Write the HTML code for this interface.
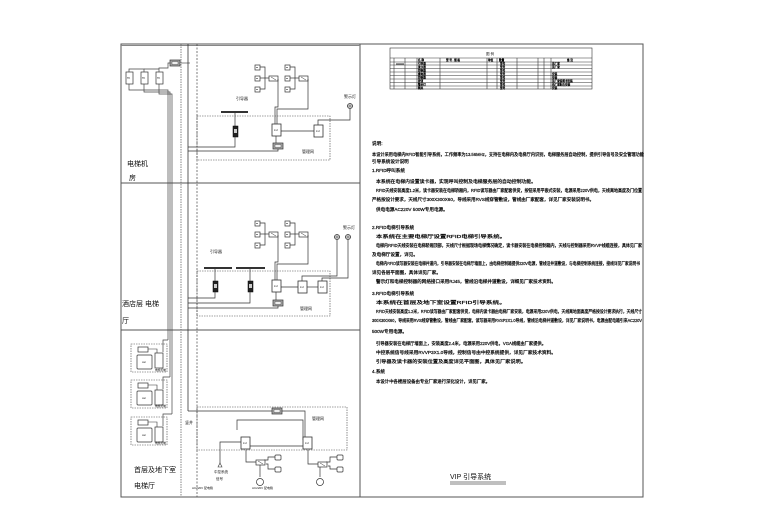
<!DOCTYPE html>
<html><head><meta charset="utf-8"><style>
html,body{margin:0;padding:0;background:#fff;}
svg{display:block;}
text{font-family:"Liberation Sans","Noto Sans CJK SC",sans-serif;fill:#111;}
.n text{fill:#000;stroke:#000;stroke-width:0.2;}
</style></head><body>
<svg width="760" height="530" viewBox="0 0 760 530" xmlns="http://www.w3.org/2000/svg">
<defs>
<g id="btn"><rect x="0" y="0" width="5" height="5" fill="#fff" stroke="#333" stroke-width="0.7"/><line x1="1" y1="2.5" x2="3" y2="2.5" stroke="#333" stroke-width="0.6"/></g>
<g id="rel"><rect x="0" y="0" width="9" height="5" fill="#fff" stroke="#333" stroke-width="0.7"/><line x1="2" y1="1" x2="7" y2="4" stroke="#333" stroke-width="0.5"/></g>
<g id="ctl"><rect x="0" y="0" width="9" height="12" fill="#fff" stroke="#333" stroke-width="0.8"/><text x="2" y="7" font-size="3">LU</text></g>
<g id="rdr"><rect x="0" y="0" width="5" height="11" fill="#222" stroke="#000" stroke-width="0.5"/><rect x="1" y="3" width="3" height="4" fill="#ccc"/></g>
<g id="gbox"><rect x="0" y="0" width="10" height="6" fill="#aaa" stroke="#333" stroke-width="0.7"/><rect x="2" y="1.5" width="6" height="3" fill="#eee" stroke="#333" stroke-width="0.4"/></g>
<g id="lamp"><circle cx="0" cy="0" r="2.5" fill="#fff" stroke="#333" stroke-width="0.8"/><line x1="-2.5" y1="0" x2="2.5" y2="0" stroke="#333" stroke-width="0.6"/><line x1="0" y1="-2.5" x2="0" y2="2.5" stroke="#333" stroke-width="0.6"/></g>
</defs>

<g stroke="#555" fill="none" stroke-width="1">
<rect x="121" y="44" width="522" height="453"/>
<line x1="360" y1="44" x2="360" y2="497"/>
<line x1="121" y1="183" x2="360" y2="183"/>
<line x1="121" y1="330" x2="360" y2="330"/>
</g>
<line x1="121" y1="45.5" x2="360" y2="45.5" stroke="#888" stroke-width="1"/>

<line x1="181" y1="44" x2="181" y2="497" stroke="#666" stroke-width="0.8" stroke-dasharray="1.5,1"/>
<line x1="188" y1="44" x2="188" y2="411" stroke="#333" stroke-width="0.8"/>
<line x1="197" y1="44" x2="197" y2="497" stroke="#444" stroke-width="0.7" stroke-dasharray="2,1.5"/>

<use href="#gbox" x="170" y="60"/>
<line x1="181" y1="63" x2="190" y2="63" stroke="#333" stroke-width="0.6"/>
<g stroke="#333" stroke-width="0.7" fill="#fff">
<rect x="126" y="72" width="7" height="12"/><rect x="141" y="72" width="7" height="12"/><rect x="156" y="72" width="7" height="12"/>
</g>
<g font-size="2.5"><text x="127" y="79">TK</text><text x="142" y="79">TK</text><text x="157" y="79">TK</text></g>
<g stroke="#444" stroke-width="0.7" fill="none">
<polyline points="129,72 129,69 144,69 144,72"/><polyline points="144,69 159,69 159,72 159,68 168,68 168,63 170,63"/>
<polyline points="129,84 129,90 168,90 168,340"/>
<polyline points="144,84 144,92 170,92 170,377"/>
<polyline points="159,84 159,94 172,94 172,414"/>
<polyline points="168,340 163,340 163,352"/>
<polyline points="170,377 163,377 163,389"/>
<polyline points="172,414 163,414 163,426"/>
</g>

<text x="236" y="100" font-size="4">引导器</text>
<rect x="221" y="111" width="27" height="2" fill="#333"/>
<line x1="235" y1="113" x2="235" y2="126" stroke="#333" stroke-width="0.7"/>
<use href="#rdr" x="233" y="126"/>
<rect x="197" y="116" width="133" height="44" fill="none" stroke="#444" stroke-width="0.6" stroke-dasharray="1.5,1"/>
<use href="#btn" x="255" y="65"/><use href="#btn" x="255" y="76"/><use href="#btn" x="255" y="87"/>
<use href="#btn" x="285" y="65"/><use href="#btn" x="285" y="76"/><use href="#btn" x="285" y="87"/>
<use href="#rel" x="269" y="76"/><use href="#rel" x="299" y="76"/>
<g stroke="#333" stroke-width="0.7" fill="none">
<polyline points="260,67 265,67 265,89 260,89"/><line x1="260" y1="78" x2="269" y2="78"/>
<polyline points="290,67 295,67 295,89 290,89"/><line x1="290" y1="78" x2="299" y2="78"/>
<polyline points="278,79 278,107 275,107 275,124"/>
<polyline points="308,79 308,109 277,109 277,124"/>
<line x1="281" y1="131" x2="314" y2="131"/>
<polyline points="318,125 318,120 350,120 350,109"/>
<polyline points="276,136 276,143"/>
<polyline points="235,137 235,147 188,147"/>
<polyline points="278,149 278,151 188,151"/>
</g>
<use href="#ctl" x="272" y="124"/>
<use href="#ctl" x="314" y="125"/>
<use href="#gbox" x="273" y="143"/>
<use href="#lamp" x="350" y="106"/>
<text x="344" y="98" font-size="4">警示灯</text>
<text x="302" y="153" font-size="4">管理网</text>
<text x="127" y="166" font-size="7">电梯机</text>
<text x="129" y="180" font-size="7">房</text>

<use href="#btn" x="255" y="221"/><use href="#btn" x="255" y="232"/><use href="#btn" x="255" y="243"/>
<use href="#btn" x="285" y="221"/><use href="#btn" x="285" y="232"/><use href="#btn" x="285" y="243"/>
<use href="#rel" x="269" y="232"/><use href="#rel" x="299" y="232"/>
<text x="210" y="253" font-size="4">引导器</text>
<rect x="204" y="267" width="28" height="2" fill="#333"/>
<rect x="236" y="267" width="29" height="2" fill="#333"/>
<rect x="197" y="271" width="133" height="45" fill="none" stroke="#444" stroke-width="0.6" stroke-dasharray="1.5,1"/>
<use href="#rdr" x="213" y="281"/><use href="#rdr" x="248" y="281"/>
<g stroke="#333" stroke-width="0.7" fill="none">
<line x1="215" y1="269" x2="215" y2="281"/><line x1="250" y1="269" x2="250" y2="281"/>
<polyline points="260,223 265,223 265,245 260,245"/><line x1="260" y1="234" x2="269" y2="234"/>
<polyline points="290,223 295,223 295,245 290,245"/><line x1="290" y1="234" x2="299" y2="234"/>
<polyline points="278,235 278,262 275,262 275,280"/>
<polyline points="308,235 308,264 277,264 277,280"/>
<line x1="281" y1="287" x2="298" y2="287"/><line x1="307" y1="287" x2="318" y2="287"/>
<polyline points="302,281 302,276 337,276 337,240"/>
<polyline points="322,281 322,278 348,278 348,240"/>
<polyline points="215,292 215,298 188,298"/>
<polyline points="250,292 250,303 188,303"/>
<polyline points="276,292 276,300"/>
<polyline points="278,306 278,308 188,308"/>
</g>
<use href="#ctl" x="272" y="280"/><use href="#ctl" x="298" y="281"/><use href="#ctl" x="318" y="281"/>
<use href="#gbox" x="273" y="300"/>
<use href="#lamp" x="337" y="237"/><use href="#lamp" x="348" y="237"/>
<text x="343" y="229" font-size="4">警示灯</text>
<text x="300" y="310" font-size="4">管理网</text>
<text x="122" y="306" font-size="7">酒店层 电梯</text>
<text x="122" y="323" font-size="7">厅</text>

<g stroke="#444" stroke-width="0.6" fill="none" stroke-dasharray="1.5,1">
<rect x="131" y="344" width="36" height="28"/><rect x="131" y="380" width="36" height="28"/><rect x="131" y="417" width="36" height="28"/>
<rect x="197" y="407" width="150" height="43"/>
</g>
<g stroke="#333" stroke-width="0.7" fill="#fff">
<rect x="138" y="347" width="10" height="5"/><rect x="137" y="355" width="15" height="14" rx="1"/><rect x="155" y="353" width="8" height="15"/>
<rect x="138" y="383" width="10" height="5"/><rect x="137" y="391" width="15" height="14" rx="1"/><rect x="155" y="390" width="8" height="15"/>
<rect x="138" y="420" width="10" height="5"/><rect x="137" y="428" width="15" height="14" rx="1"/><rect x="155" y="427" width="8" height="15"/>
</g>
<g stroke="#333" stroke-width="0.6" fill="none">
<polyline points="148,349 157,349 157,353"/><polyline points="148,385 157,385 157,390"/><polyline points="148,422 157,422 157,427"/>
</g>
<g font-size="2.8"><text x="142" y="363">car</text><text x="142" y="399">car</text><text x="142" y="436">car</text>
<text x="155" y="371">电梯控制</text><text x="155" y="407">电梯控制</text><text x="155" y="444">电梯控制</text></g>
<g stroke="#333" stroke-width="0.7" fill="none">
<polyline points="188,411 305,411 305,437"/>
<polyline points="237,430 237,420 303,420 303,440"/>
<line x1="250" y1="446" x2="303" y2="446"/>
<polyline points="220,463 220,442 243,442"/>
<polyline points="246,450 246,462 258,462"/>
<polyline points="308,450 308,464 320,464"/>
<polyline points="264,460 268,460 268,457 275,457"/><polyline points="266,464 268,464 268,469 275,469"/>
<polyline points="326,462 330,462 330,457 337,457"/><polyline points="328,466 330,466 330,469 337,469"/>
<line x1="260" y1="465" x2="260" y2="477"/><line x1="320" y1="467" x2="320" y2="477"/>
</g>
<use href="#gbox" x="272" y="408"/>
<use href="#ctl" x="241" y="437"/><use href="#ctl" x="303" y="437"/>
<use href="#rel" x="256" y="460"/><use href="#rel" x="318" y="462"/>
<g stroke="#333" stroke-width="0.7" fill="#fff">
<rect x="275" y="455" width="6" height="5" rx="1"/><rect x="275" y="467" width="6" height="5" rx="1"/>
<rect x="337" y="455" width="6" height="5" rx="1"/><rect x="337" y="467" width="6" height="5" rx="1"/>
<circle cx="260" cy="482" r="3.5"/><circle cx="320" cy="482" r="3.5"/>
</g>
<polygon points="220,463 218,467 222,467" fill="none" stroke="#333" stroke-width="0.6"/>
<text x="214" y="473" font-size="3.5">中控系统</text>
<text x="216" y="480" font-size="3.5">信号</text>
<text x="312" y="420" font-size="4">管理网</text>
<text x="185" y="424" font-size="4">竖井</text>
<text x="192" y="489" font-size="3">AC220V 配电箱</text>
<text x="252" y="489" font-size="3">AC220V 配电箱</text>
<text x="134" y="472" font-size="7">首层及地下室</text>
<text x="134" y="488" font-size="7">电梯厅</text>

<g stroke="#333" stroke-width="0.6" fill="none">
<rect x="390" y="48" width="202" height="41"/>
<line x1="390" y1="58" x2="592" y2="58"/>
<line x1="390" y1="62" x2="592" y2="62"/>
<line x1="390" y1="65" x2="592" y2="65"/><line x1="390" y1="68.5" x2="592" y2="68.5"/><line x1="390" y1="72" x2="592" y2="72"/>
<line x1="390" y1="75.5" x2="592" y2="75.5"/><line x1="390" y1="79" x2="592" y2="79"/><line x1="390" y1="82.5" x2="592" y2="82.5"/><line x1="390" y1="86" x2="592" y2="86"/>
<line x1="394" y1="58" x2="394" y2="89"/><line x1="405" y1="58" x2="405" y2="89"/><line x1="417" y1="58" x2="417" y2="89"/>
<line x1="440" y1="58" x2="440" y2="89"/><line x1="487" y1="58" x2="487" y2="89"/><line x1="497" y1="58" x2="497" y2="89"/>
<line x1="517" y1="58" x2="517" y2="89"/><line x1="538" y1="58" x2="538" y2="89"/><line x1="544" y1="58" x2="544" y2="89"/><line x1="551" y1="58" x2="551" y2="89"/>
</g>
<text x="486" y="55" font-size="3.5">图 例</text>
<g font-size="2.6" class="n">
<text x="418" y="61">名 称</text><text x="446" y="61">型 号 . 规 格</text><text x="488" y="61">单位</text><text x="499" y="61">数量</text><text x="567" y="61">备 注</text>
<text x="418" y="64.5">引导器</text><text x="418" y="68">读卡器</text><text x="418" y="71.5">控制器</text><text x="418" y="75">继电器</text><text x="418" y="78.5">控制器</text><text x="418" y="82">按钮</text><text x="418" y="85.5">警示灯</text><text x="418" y="88.8">网关</text>
<text x="500" y="64.5">型号</text><text x="500" y="68">型号</text><text x="500" y="71.5">型号</text><text x="500" y="75">型号</text><text x="500" y="78.5">型号</text><text x="500" y="82">型号</text><text x="500" y="85.5">型号</text><text x="500" y="88.8">型号</text>
<text x="552" y="64.5">见厂家</text><text x="552" y="68">见厂家</text><text x="552" y="75">安装</text><text x="552" y="78.5">安装</text><text x="552" y="82">见厂家说明书安装</text><text x="552" y="85.5">由厂家配合安装</text><text x="552" y="88.8">安装</text>
</g>
<rect x="396" y="63.5" width="8" height="1" fill="#333"/>

<g font-size="4.6" class="n">
<text x="372" y="145">说明:</text>
<text x="372" y="156" textLength="272" lengthAdjust="spacingAndGlyphs">本设计采用电梯内RFID智能引导系统，工作频率为13.56MHz，支持在电梯内及电梯厅内识别，电梯服务层自动控制，提供引导信号及安全管理功能</text>
<text x="372" y="163">引导系统设计说明</text>
<text x="372" y="172">1.RFID呼叫系统</text>
<text x="376" y="183" textLength="160" lengthAdjust="spacingAndGlyphs">本系统在电梯内设置读卡器，实现呼叫控制及电梯服务层的自动控制功能。</text>
<text x="376" y="192" textLength="266" lengthAdjust="spacingAndGlyphs">RFID天线安装高度1.2米，读卡器安装在电梯轿厢内，RFID读写器由厂家配套供货，按钮采用平嵌式安装，电源采用220V供电，天线离地高度及门位置</text>
<text x="372" y="201" textLength="222" lengthAdjust="spacingAndGlyphs">严格按设计要求，天线尺寸300X300X60，导线采用RVS线穿管敷设，管线由厂家配套，详见厂家安装说明书。</text>
<text x="376" y="211">供电电源AC220V 500W专用电源。</text>
<text x="372" y="229">2.RFID电梯引导系统</text>
<text x="376" y="238" textLength="130" lengthAdjust="spacingAndGlyphs">本系统在主要电梯厅设置RFID电梯引导系统。</text>
<text x="376" y="247" textLength="266" lengthAdjust="spacingAndGlyphs">电梯内RFID天线安装在电梯轿厢顶部，天线尺寸根据现场电梯情况确定，读卡器安装在电梯控制箱内，天线与控制器采用RVVP线缆连接，具体见厂家</text>
<text x="372" y="256">及电梯厅设置，详见。</text>
<text x="376" y="265" textLength="264" lengthAdjust="spacingAndGlyphs">电梯内RFID读写器安装在电梯井道内，引导器安装在电梯厅墙面上，由电梯控制箱提供220V电源，管线沿井道敷设，与电梯控制系统连接，接线详见厂家说明书</text>
<text x="372" y="274">详见各层平面图，具体详见厂家。</text>
<text x="376" y="283" textLength="180" lengthAdjust="spacingAndGlyphs">警示灯和电梯控制器的网络接口采用RJ45，管线沿电梯井道敷设，详细见厂家技术资料。</text>
<text x="372" y="295">3.RFID电梯引导系统</text>
<text x="376" y="304" textLength="130" lengthAdjust="spacingAndGlyphs">本系统在首层及地下室设置RFID引导系统。</text>
<text x="376" y="313" textLength="266" lengthAdjust="spacingAndGlyphs">RFID天线安装高度1.2米，RFID读写器由厂家配套供货，电梯内读卡器由电梯厂家安装，电源采用220V供电，天线离地面高度严格按设计要求执行，天线尺寸</text>
<text x="372" y="322" textLength="270" lengthAdjust="spacingAndGlyphs">300X300X60，导线采用RVS线穿管敷设，管线由厂家配套，读写器采用RVSP2X1.0导线，管线沿电梯井道敷设，详见厂家说明书，电源由配电箱引来AC220V</text>
<text x="372" y="333">500W专用电源。</text>
<text x="376" y="345" textLength="170" lengthAdjust="spacingAndGlyphs">引导器安装在电梯厅墙面上，安装高度2.4米，电源采用220V供电，VGA线缆由厂家提供。</text>
<text x="376" y="354" textLength="180" lengthAdjust="spacingAndGlyphs">中控系统信号线采用RVVP3X1.0导线，控制信号由中控系统提供，详见厂家技术资料。</text>
<text x="376" y="363" textLength="150" lengthAdjust="spacingAndGlyphs">引导器及读卡器的安装位置及高度详见平面图，具体见厂家说明。</text>
<text x="372" y="373">4.系统</text>
<text x="376" y="383" textLength="114" lengthAdjust="spacingAndGlyphs">本设计中各楼层设备由专业厂家进行深化设计，详见厂家。</text>
</g>
<text x="450" y="479" font-size="7">VIP 引导系统</text>
<line x1="450" y1="482" x2="506" y2="482" stroke="#555" stroke-width="0.8"/>
<line x1="450" y1="484" x2="506" y2="484" stroke="#555" stroke-width="0.8"/>
</svg>
</body></html>
